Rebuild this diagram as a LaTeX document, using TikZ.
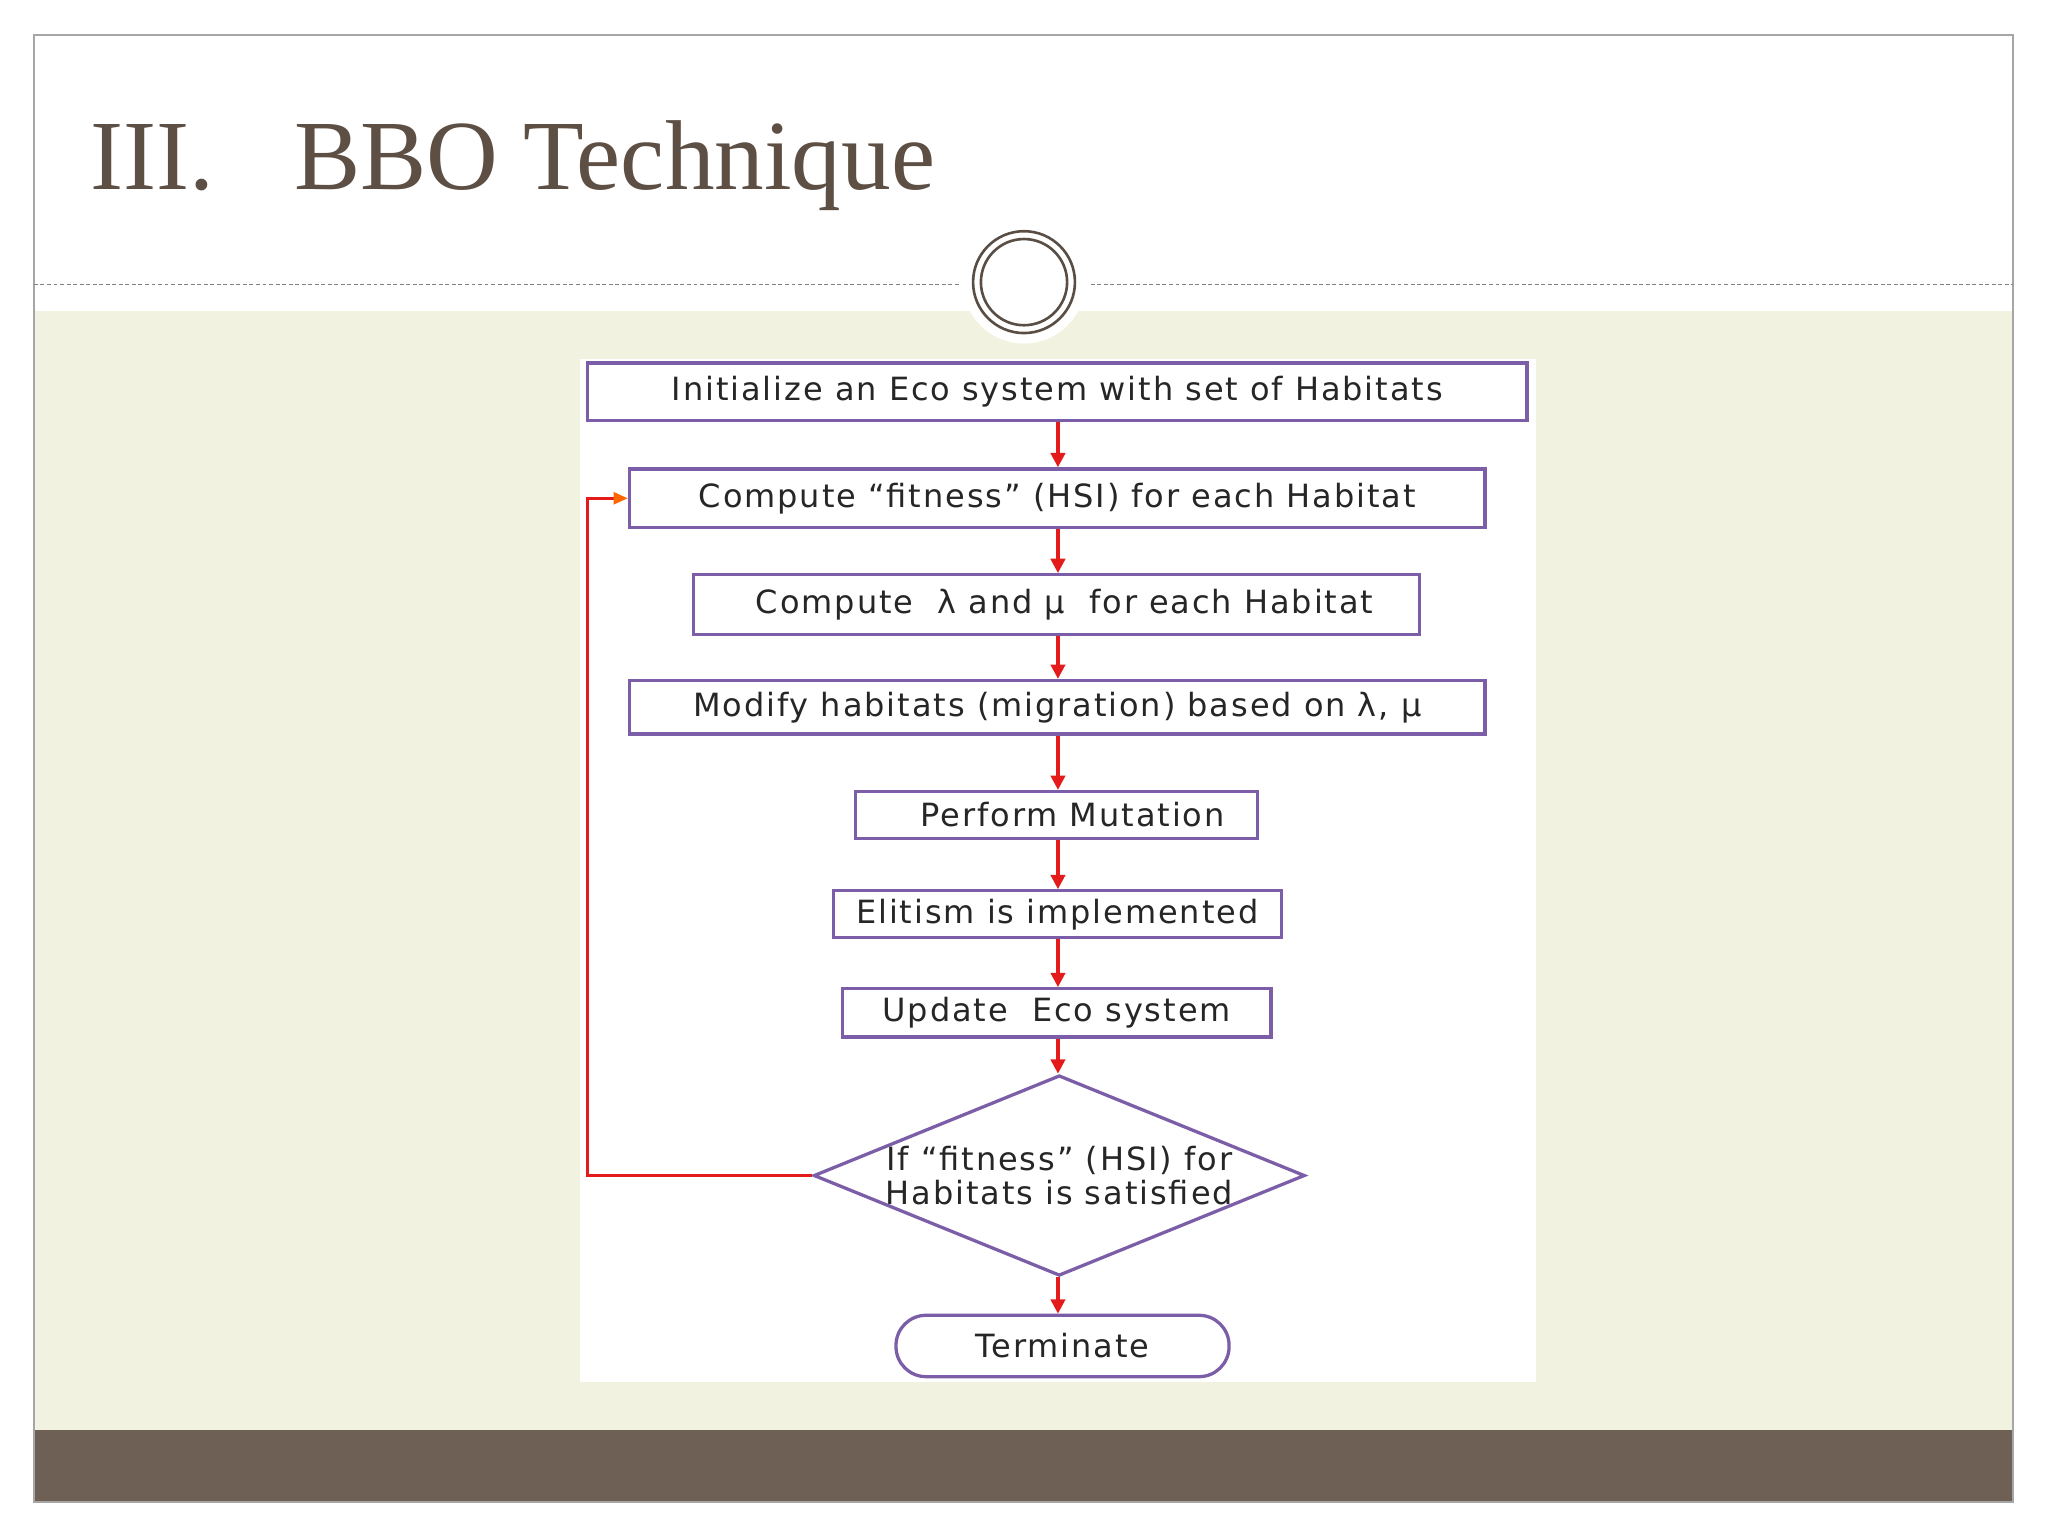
\documentclass[tikz,border=0pt]{standalone}
\usepackage{fontspec}
\setmainfont{Liberation Serif}
\newfontfamily\boxfont{DejaVu Sans}[LetterSpace=6]
\usetikzlibrary{shapes.geometric,arrows.meta}
\definecolor{beige}{HTML}{F2F2E0}
\definecolor{band}{HTML}{6F6055}
\definecolor{titlec}{HTML}{5E4F45}
\definecolor{purp}{HTML}{7B5EA7}
\definecolor{arr}{HTML}{E41B1B}
\begin{document}
\begin{tikzpicture}[x=1pt,y=-1pt,
  box/.style={draw=purp,line width=2.5pt,fill=white,font=\boxfont\fontsize{24.5}{26}\selectfont,text=black!85,inner sep=0pt},
  conn/.style={draw=arr,line width=2.5pt,-{Triangle[length=11pt,width=11pt]}}]
\useasboundingbox (0,0) rectangle (1568,1176);
\fill[white] (0,0) rectangle (1568,1176);
\fill[beige] (26,238) rectangle (1541,1095);
\fill[band] (26,1095) rectangle (1541,1150);
\draw[gray!70,line width=1.2pt] (26,27) rectangle (1541,1150);
\draw[gray,dashed,line width=0.8pt,dash pattern=on 3pt off 2pt] (26,218) -- (735,218);
\draw[gray,dashed,line width=0.8pt,dash pattern=on 3pt off 2pt] (835,218) -- (1541,218);
\fill[white] (784,216) circle (47);
\draw[band!80!black,line width=2pt] (784,216) circle (39);
\draw[band!80!black,line width=2pt] (784,216) circle (33);
\node[anchor=base west,text=titlec,font=\fontsize{76}{80}\selectfont] (title) at (66,145) {III.\hspace{0.8em}BBO Technique};
\fill[white] (444,275) rectangle (1176,1058);
\node[box,minimum width=719,minimum height=44] (b1) at (809.5,300) {Initialize an Eco system with set of Habitats};
\node[box,minimum width=655,minimum height=45] (b2) at (809.5,381.5) {Compute “fitness” (HSI) for each Habitat};
\node[box,minimum width=556,minimum height=46] (b3) at (809,463) {\hspace{0.5em}Compute\ \ λ and μ\ \ for each Habitat};
\node[box,minimum width=655,minimum height=41] (b4) at (809.5,541.5) {Modify habitats (migration) based on λ, μ};
\node[box,minimum width=308,minimum height=36] (b5) at (809,624) {\hspace{1em}Perform Mutation};
\node[box,minimum width=343,minimum height=36] (b6) at (809.5,700) {Elitism is implemented};
\node[box,minimum width=328,minimum height=37] (b7) at (809,775.5) {Update\ \ Eco system};
\node[box,diamond,aspect=2.45,minimum width=368,minimum height=150,align=center] (d) at (811,900) {If “fitness” (HSI) for\\Habitats is satisfied};
\node[box,rounded corners=23pt,minimum width=255,minimum height=47] (t) at (813.5,1030.5) {Terminate};
\draw[conn] (b1.south -| 810,0) -- (b2.north -| 810,0);
\draw[conn] (b2.south -| 810,0) -- (b3.north -| 810,0);
\draw[conn] (b3.south -| 810,0) -- (b4.north -| 810,0);
\draw[conn] (b4.south -| 810,0) -- (b5.north -| 810,0);
\draw[conn] (b5.south -| 810,0) -- (b6.north -| 810,0);
\draw[conn] (b6.south -| 810,0) -- (b7.north -| 810,0);
\draw[conn] (b7.south -| 810,0) -- (d.north -| 810,0);
\draw[conn] (d.south -| 810,0) -- (t.north -| 810,0);
\draw[arr,line width=2.5pt,-{Triangle[length=11pt,width=9pt,color=orange!80!red]}] (d.west) -- (450,900) -- (450,381.5) -- (b2.west);
\end{tikzpicture}
\end{document}
